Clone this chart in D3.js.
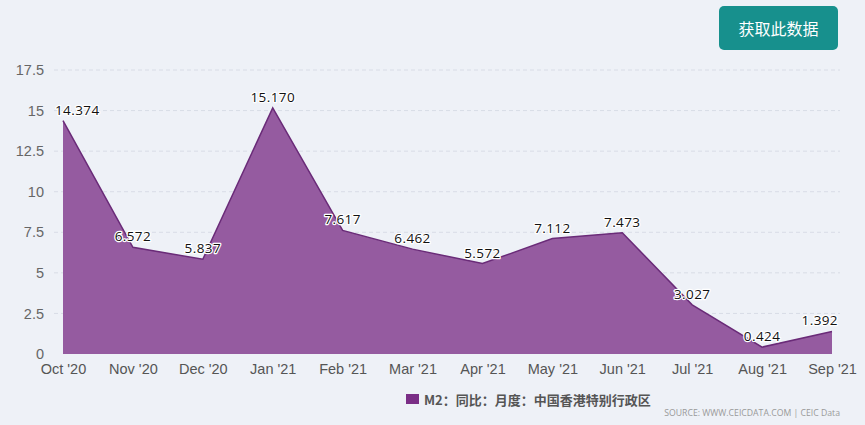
<!DOCTYPE html>
<html><head><meta charset="utf-8">
<script src="https://cdn.jsdelivr.net/npm/d3@7"></script>
<style>
html,body{margin:0;padding:0;background:#eef1f7;}
svg{display:block;font-family:"Open Sans","Noto Sans","Noto Sans CJK SC",sans-serif;}
</style></head>
<body>
<svg id="c" width="865" height="425"></svg>
<script>
const categories = ["Oct '20","Nov '20","Dec '20","Jan '21","Feb '21","Mar '21","Apr '21","May '21","Jun '21","Jul '21","Aug '21","Sep '21"];
const values = [14.374,6.572,5.837,15.170,7.617,6.462,5.572,7.112,7.473,3.027,0.424,1.392];
const yTicks = [0,2.5,5,7.5,10,12.5,15,17.5];
const seriesName = "M2：同比：月度：中国香港特别行政区";
const buttonText = "获取此数据";
const sourceText = "SOURCE: WWW.CEICDATA.COM | CEIC Data";

const svg = d3.select("#c");
const W=865,H=425;
svg.append("rect").attr("width",W).attr("height",H).attr("fill","#eef1f7");

const x = d3.scalePoint().domain(categories).range([63,832]);
const y = d3.scaleLinear().domain([0,17.5]).range([354,70]);

// grid
svg.append("g").selectAll("line").data(yTicks.filter(d=>d>0)).join("line")
  .attr("x1",54).attr("x2",840).attr("y1",d=>y(d)).attr("y2",d=>y(d))
  .attr("stroke","#d8dce6").attr("stroke-width",1).attr("stroke-dasharray","4,3");

// y axis labels
const yAxis = d3.axisLeft(y).tickValues(yTicks).tickSize(0).tickPadding(0).tickFormat(d=>d3.format("")(d));
const gy = svg.append("g").attr("transform","translate(44,0)").call(yAxis);
gy.select(".domain").remove();
gy.selectAll("text").attr("fill","#666").attr("font-size","14.5px");

// x axis labels
const xAxis = d3.axisBottom(x).tickSize(0).tickPadding(0);
const gx = svg.append("g").attr("transform","translate(0,364)").call(xAxis);
gx.select(".domain").remove();
gx.selectAll("text").attr("fill","#555").attr("font-size","14.5px");

// area
const pts = categories.map((c,i)=>({c,v:values[i]}));
const area = d3.area().x(d=>x(d.c)).y0(y(0)).y1(d=>y(d.v));
const line = d3.line().x(d=>x(d.c)).y(d=>y(d.v));
svg.append("path").datum(pts).attr("d",area).attr("fill","#955ba0");
svg.append("path").datum(pts).attr("d",line).attr("fill","none").attr("stroke","#6a2b78").attr("stroke-width",1.5);

// data labels
const lbl = svg.append("g");
pts.forEach(d=>{
  const t = lbl.append("text").text(d3.format(".3f")(d.v))
    .attr("font-size","13.5px").attr("text-anchor","middle")
    .attr("x",x(d.c)).attr("y",y(d.v)-6)
    .attr("fill","#111").attr("stroke","#fff").attr("stroke-width",2.5)
    .attr("paint-order","stroke").attr("stroke-linejoin","round")
    .attr("letter-spacing","0.4px");
  const bb = t.node().getBBox();
  let cx = x(d.c);
  if (bb.x < 55) cx += 55-bb.x;
  if (bb.x+bb.width > 838) cx -= (bb.x+bb.width-838);
  t.attr("x",cx);
});

// button
svg.append("rect").attr("x",719).attr("y",6).attr("width",119).attr("height",44).attr("rx",5)
  .attr("fill","#17908d");
svg.append("text").attr("x",778.5).attr("y",34.5).attr("text-anchor","middle")
  .attr("fill","#fff").attr("font-size","16px").attr("font-family","Noto Sans CJK SC").text(buttonText);

// legend
svg.append("rect").attr("x",406).attr("y",394).attr("width",13).attr("height",10).attr("fill","#7a2e86");
svg.append("text").attr("x",424).attr("y",404.5).attr("fill","#555").attr("font-size","13px")
  .attr("font-weight","bold").attr("font-family","Noto Sans CJK SC").text(seriesName);

svg.append("text").attr("x",840).attr("y",416).attr("text-anchor","end").attr("fill","#999")
  .attr("font-size","8.7px").text(sourceText);
</script>
</body></html>
